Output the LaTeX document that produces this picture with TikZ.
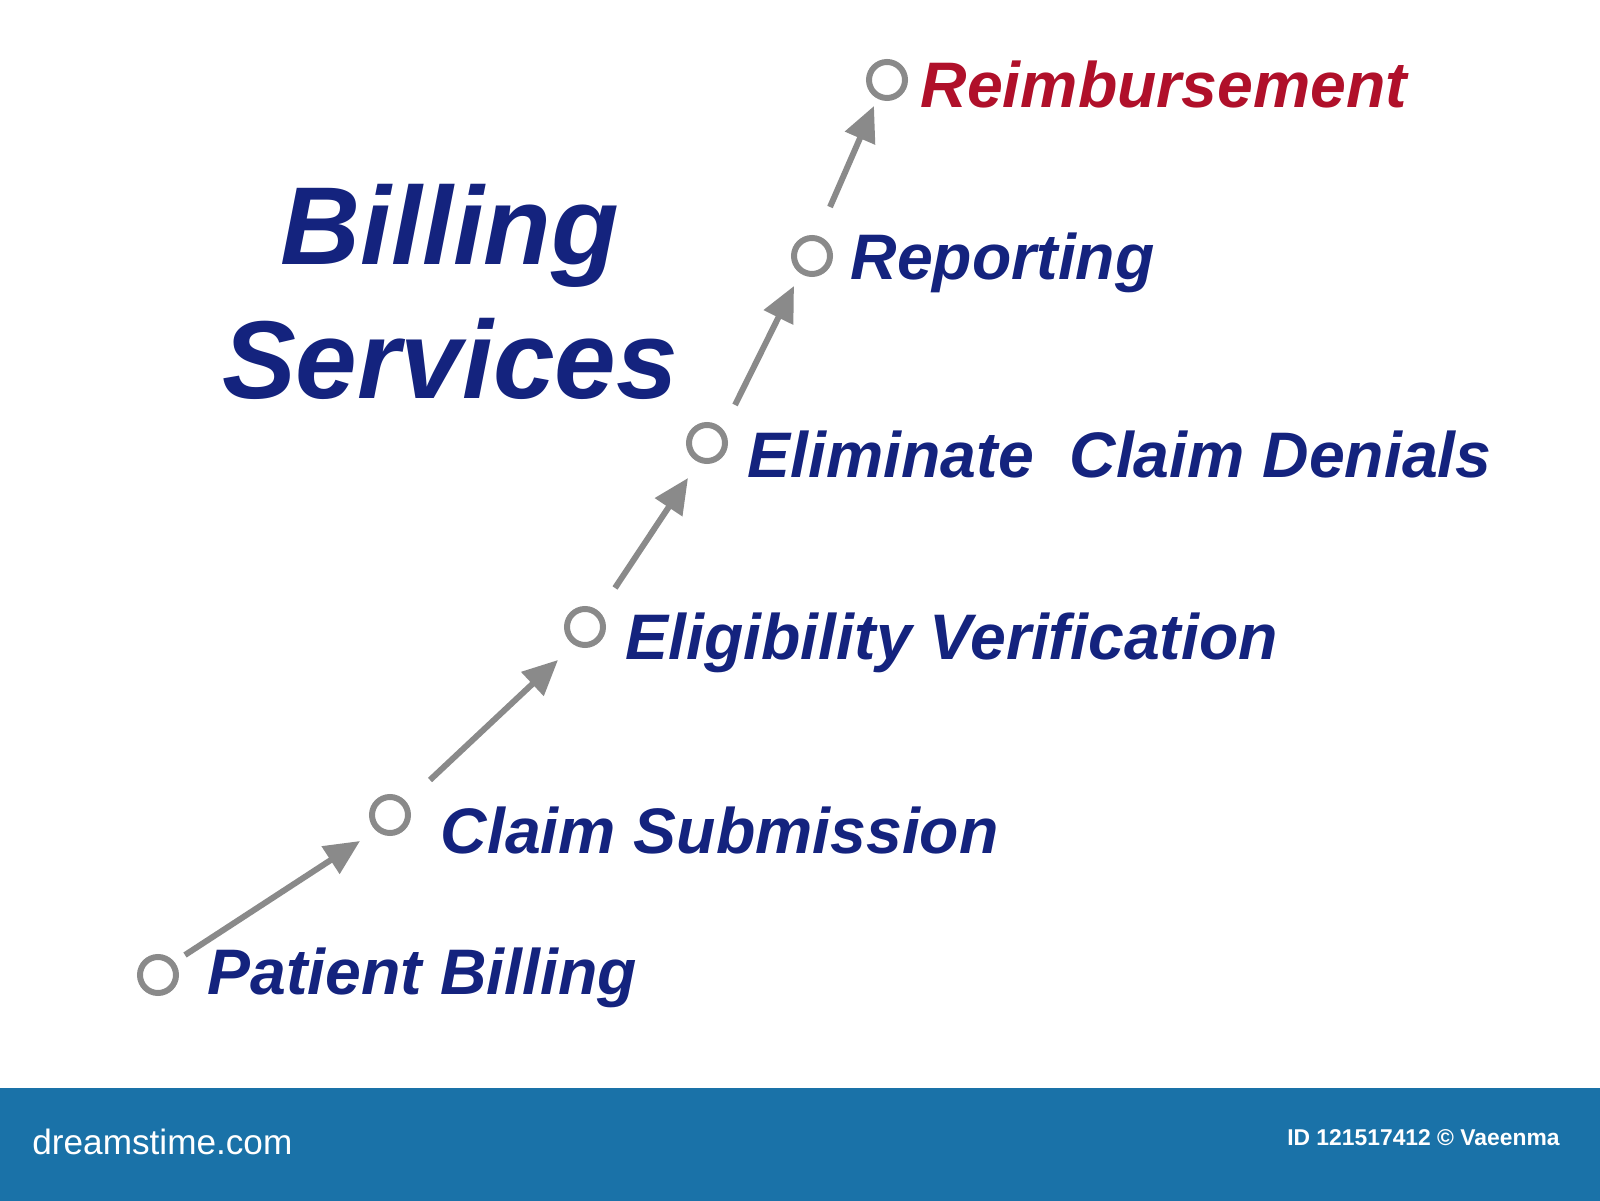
\documentclass[tikz,border=0pt]{standalone}
\usepackage{fontspec}
\setmainfont{Liberation Sans}
\usetikzlibrary{arrows.meta}
\definecolor{navy}{HTML}{14237E}
\definecolor{redt}{HTML}{B0102A}
\definecolor{gr}{HTML}{8A8A8A}
\definecolor{bar}{HTML}{1A72A8}
\begin{document}
\begin{tikzpicture}[x=0.01cm,y=-0.01cm,
  dot/.style={circle,draw=gr,line width=1.7pt,minimum size=0.36cm,inner sep=0pt,fill=white},
  lab/.style={anchor=west,text=navy,font=\fontsize{18.3}{22}\selectfont\bfseries\itshape,inner sep=0pt},
  arr/.style={draw=gr,line width=1.7pt,-{Triangle[length=10pt,width=9pt]}}]
\useasboundingbox (0,0) rectangle (1600,1201);
\fill[bar] (0,1088) rectangle (1600,1201);
\node[anchor=west,text=white,font=\fontsize{10}{12}\selectfont] (wm) at (20,1142) {dreamstime.com};
\node[anchor=east,text=white,font=\fontsize{6.5}{8}\selectfont\bfseries] (id) at (1572,1138) {ID 121517412 © Vaeenma};
\node[text=navy,font=\fontsize{31.5}{38}\selectfont\bfseries\itshape,align=center] (t) at (450,292) {Billing\\Services};
\node[dot] (a) at (158,975) {};
\node[dot] (b) at (390,815) {};
\node[dot] (c) at (585,627) {};
\node[dot] (d) at (707,443) {};
\node[dot] (e) at (812,256) {};
\node[dot] (f) at (887,80) {};
\node[lab] (la) at (207,978) {Patient Billing};
\node[lab] (lb) at (440,830) {Claim Submission};
\node[lab] (lc) at (625,643) {Eligibility Verification};
\node[lab] (ld) at (747,455) {Eliminate\ \ Claim Denials};
\node[lab] (le) at (850,263) {Reporting};
\node[lab,text=redt] (lf) at (920,85) {Reimbursement};
\coordinate (a1) at (185,955); \coordinate (a2) at (360,841);
\coordinate (b1) at (430,780); \coordinate (b2) at (558,660);
\coordinate (c1) at (615,588); \coordinate (c2) at (688,478);
\coordinate (d1) at (735,405); \coordinate (d2) at (794,286);
\coordinate (e1) at (830,207); \coordinate (e2) at (874,106);
\draw[arr] (a1) -- (a2);
\draw[arr] (b1) -- (b2);
\draw[arr] (c1) -- (c2);
\draw[arr] (d1) -- (d2);
\draw[arr] (e1) -- (e2);
\end{tikzpicture}
\end{document}
